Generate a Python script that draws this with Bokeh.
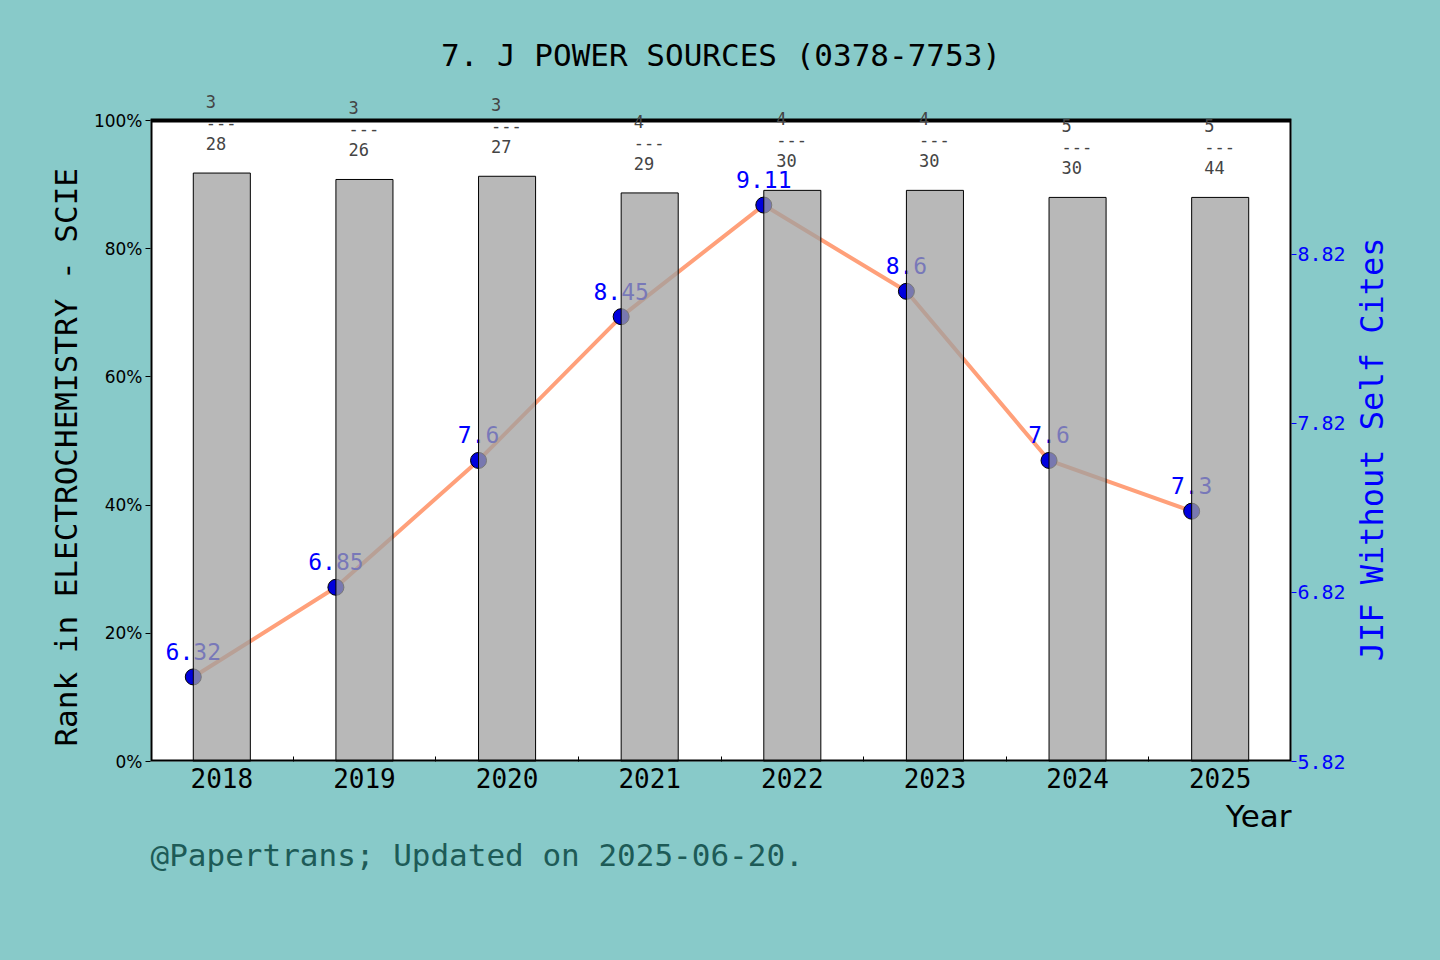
import math
import numpy as np
from bokeh.plotting import figure
from bokeh.layouts import row
from bokeh.models import (Range1d, LinearAxis, FixedTicker, ColumnDataSource,
                          LabelSet, Title, PrintfTickFormatter, BoxAnnotation)
from bokeh.core.properties import value
from bokeh.embed import file_html
from bokeh.resources import INLINE

years = [2018, 2019, 2020, 2021, 2022, 2023, 2024, 2025]
rank_pct = [91.8, 90.8, 91.3, 88.7, 89.1, 89.1, 88.0, 88.0]
rank = [3, 3, 3, 4, 4, 4, 5, 5]
total = [28, 26, 27, 29, 30, 30, 30, 44]
jif = [6.32, 6.85, 7.6, 8.45, 9.11, 8.6, 7.6, 7.3]
jif_ticks = [5.82, 6.82, 7.82, 8.82]
pct_ticks = [0, 20, 40, 60, 80, 100]

title = "7. J POWER SOURCES (0378-7753)"
footer = "@Papertrans; Updated on 2025-06-20."
right_label = "JIF Without Self Cites"
nb = "\u00a0"

BG = "#88cac9"
MONO = "DejaVu Sans Mono"

# the white panel is 641px tall; the frame runs 42px higher so that the
# rank fractions above the panel are not cut off
W, H = 1350, 952
SIDE_W = 82
LEFT, RIGHT, BOTTOM = 150, 1291, 761
PANEL_H, EXTRA_H = 641, 42
y_top = 100 * (PANEL_H + EXTRA_H) / PANEL_H
jif_lo, jif_hi = min(jif) - 0.5, max(jif) + 0.5
jif_top = jif_lo + (jif_hi - jif_lo) * y_top / 100

src = ColumnDataSource(dict(
    year=years,
    pct=rank_pct,
    frac=[f"{r}\n---\n{n}" for r, n in zip(rank, total)],
    xline=list(np.array(years) - 0.2),
    jif=jif,
    jif_txt=[str(v) for v in jif],
))

p = figure(width=W, height=H, output_backend="svg", toolbar_location=None,
           tools="", x_range=Range1d(years[0] - 0.5, years[-1] + 0.5),
           y_range=Range1d(0, y_top),
           min_border_left=LEFT, min_border_right=W - RIGHT,
           min_border_top=BOTTOM - PANEL_H - EXTRA_H, min_border_bottom=H - BOTTOM)

p.background_fill_color = BG
p.border_fill_color = BG
p.outline_line_color = None
p.grid.grid_line_color = None

p.add_layout(BoxAnnotation(bottom=0, top=100, fill_color="white", fill_alpha=1,
                           line_color=None, level="underlay"))

p.title.text = title
p.title.align = "center"
p.title.text_font = MONO
p.title.text_font_size = "31px"
p.title.text_font_style = "normal"
p.title.text_color = "black"
p.title.standoff = 12

p.extra_y_ranges = {"jif": Range1d(jif_lo, jif_top)}

# line + points + value labels, bars go over them
p.line("xline", "jif", source=src, y_range_name="jif",
       line_color="#ffa07a", line_width=4)
p.scatter("xline", "jif", source=src, y_range_name="jif", size=16,
          fill_color="#0000dd", line_color="black", line_width=1)
p.text("xline", "jif", text="jif_txt", source=src, y_range_name="jif",
       text_font=value(MONO), text_font_size="23px", text_color="blue",
       text_align="center", text_baseline="bottom", y_offset=-17)

p.vbar(x="year", top="pct", width=0.4, source=src,
       fill_color="#a0a0a0", fill_alpha=0.75, line_color="black", line_width=1)

p.add_layout(BoxAnnotation(bottom=0, top=100, fill_color=None, line_alpha=1,
                           line_color="black", line_width=4, level="overlay"))

fr = LabelSet(x="year", y="pct", text="frac", source=src,
              x_offset=-16, y_offset=19, text_align="left",
              text_baseline="bottom", text_font=value(MONO),
              text_font_size="17px", text_color="#444444",
              text_line_height=1.05, level="overlay")
p.add_layout(fr)

# x axis
xa = p.xaxis[0]
xa.ticker = FixedTicker(ticks=years, minor_ticks=[y + 0.5 for y in years[:-1]])
xa.formatter = PrintfTickFormatter(format="%d")
xa.axis_line_color = None
xa.major_tick_line_color = None
xa.minor_tick_in = 5
xa.minor_tick_out = 0
xa.minor_tick_line_color = "black"
xa.major_label_standoff = 0
xa.major_label_text_font = MONO
xa.major_label_text_font_size = "26px"
xa.major_label_text_color = "black"

# left axis
ya = p.yaxis[0]
ya.ticker = FixedTicker(ticks=pct_ticks)
ya.formatter = PrintfTickFormatter(format="%d%%")
ya.axis_line_color = None
ya.major_tick_in = 0
ya.major_tick_out = 5
ya.major_tick_line_color = "black"
ya.minor_tick_line_color = None
ya.major_label_standoff = 3
ya.major_label_text_font = "DejaVu Sans"
ya.major_label_text_font_size = "17px"
ya.major_label_text_color = "black"
ya.axis_label = "Rank in ELECTROCHEMISTRY - SCIE" + nb * 4
ya.axis_label_text_font = MONO
ya.axis_label_text_font_size = "31px"
ya.axis_label_text_font_style = "normal"
ya.axis_label_text_color = "black"
ya.axis_label_standoff = 7

# right axis; its title reads upwards, so it sits in a narrow side figure
ra = LinearAxis(y_range_name="jif", ticker=FixedTicker(ticks=jif_ticks),
                formatter=PrintfTickFormatter(format="%.2f"))
ra.axis_line_color = None
ra.major_tick_in = 0
ra.major_tick_out = 5
ra.major_tick_line_color = "blue"
ra.minor_tick_line_color = None
ra.major_label_standoff = 1
ra.major_label_text_font = MONO
ra.major_label_text_font_size = "20px"
ra.major_label_text_color = "blue"
p.add_layout(ra, "right")

p.add_layout(Title(text="Year", align="right", text_font="DejaVu Sans",
                   text_font_size="31px", text_font_style="normal",
                   text_color="black", standoff=10), "below")
p.add_layout(Title(text=footer, align="left", text_font=MONO,
                   text_font_size="31px", text_font_style="normal",
                   text_color="#1d5b57", standoff=-7), "below")

side = figure(width=SIDE_W, height=H, output_backend="svg", toolbar_location=None,
              tools="", x_range=Range1d(0, SIDE_W), y_range=Range1d(0, H),
              x_axis_type=None, y_axis_type=None, min_border=0)
side.background_fill_color = BG
side.border_fill_color = BG
side.outline_line_color = None
side.grid.grid_line_color = None
side.text(x=[21], y=[435], text=[right_label], angle=math.pi / 2,
          text_align="center", text_baseline="middle", text_font=value(MONO),
          text_font_size="32px", text_color="blue")

layout = row(p, side, spacing=0)

html = file_html(layout, INLINE).replace("<head>", "<head><style>body{background:%s}</style>" % BG, 1)
open("out.html", "w").write(html)
